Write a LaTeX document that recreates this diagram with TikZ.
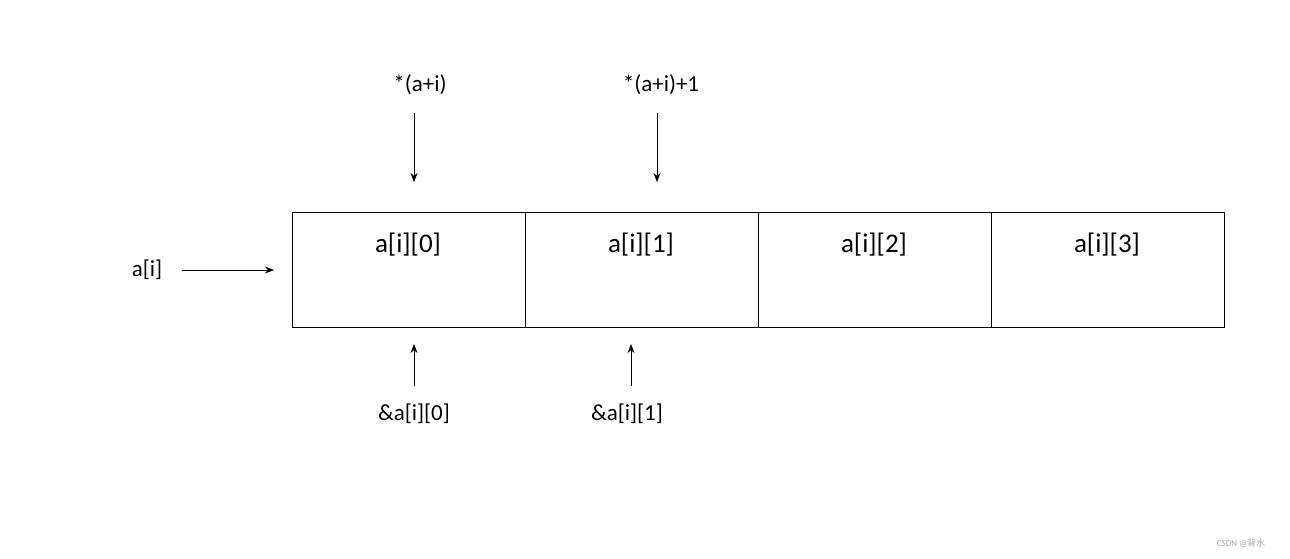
\documentclass[tikz,border=0pt]{standalone}
\usepackage{fontspec}
\setmainfont{Carlito}
\newfontfamily\cjk{Noto Sans CJK SC}
\usetikzlibrary{arrows.meta}
\begin{document}
\begin{tikzpicture}[x=1pt,y=-1pt,
  cell/.style={draw,line width=1.3pt,minimum width=233pt,minimum height=115pt,anchor=north west,inner sep=0pt},
  celltxt/.style={font=\fontsize{27}{30}\selectfont},
  lbl/.style={font=\fontsize{23}{26}\selectfont},
  arr/.style={-{Stealth[length=9pt,width=7pt]},line width=0.8pt}]
\useasboundingbox (0,0) rectangle (1290,558);
\node[cell] (c0) at (292,212) {};
\node[cell] (c1) at (525,212) {};
\node[cell] (c2) at (758,212) {};
\node[cell] (c3) at (991,212) {};
\foreach \i/\x in {0/408,1/641,2/874,3/1107}{
  \node[celltxt] (t\i) at (\x,245) {a[i][\i]};
}
\node[lbl] (ai) at (147,270) {a[i]};
\coordinate (aiS) at (182,270);
\coordinate (aiE) at (274,270);
\draw[arr] (aiS) -- (aiE);
\node[lbl] (p0) at (420,85) {*(a+i)};
\node[lbl] (p1) at (661,85) {*(a+i)+1};
\coordinate (p0s) at (414,113); \coordinate (p0e) at (414,182);
\coordinate (p1s) at (657,113); \coordinate (p1e) at (657,182);
\draw[arr] (p0s) -- (p0e);
\draw[arr] (p1s) -- (p1e);
\node[lbl] (q0) at (414,414) {\&a[i][0]};
\node[lbl] (q1) at (627,414) {\&a[i][1]};
\coordinate (q0s) at (414,386); \coordinate (q0e) at (414,344);
\coordinate (q1s) at (631,386); \coordinate (q1e) at (631,344);
\draw[arr] (q0s) -- (q0e);
\draw[arr] (q1s) -- (q1e);
\node[text=gray!70,font=\fontsize{9}{10}\selectfont] (wm) at (1241,543) {CSDN @{\cjk 背水}};
\end{tikzpicture}
\end{document}
